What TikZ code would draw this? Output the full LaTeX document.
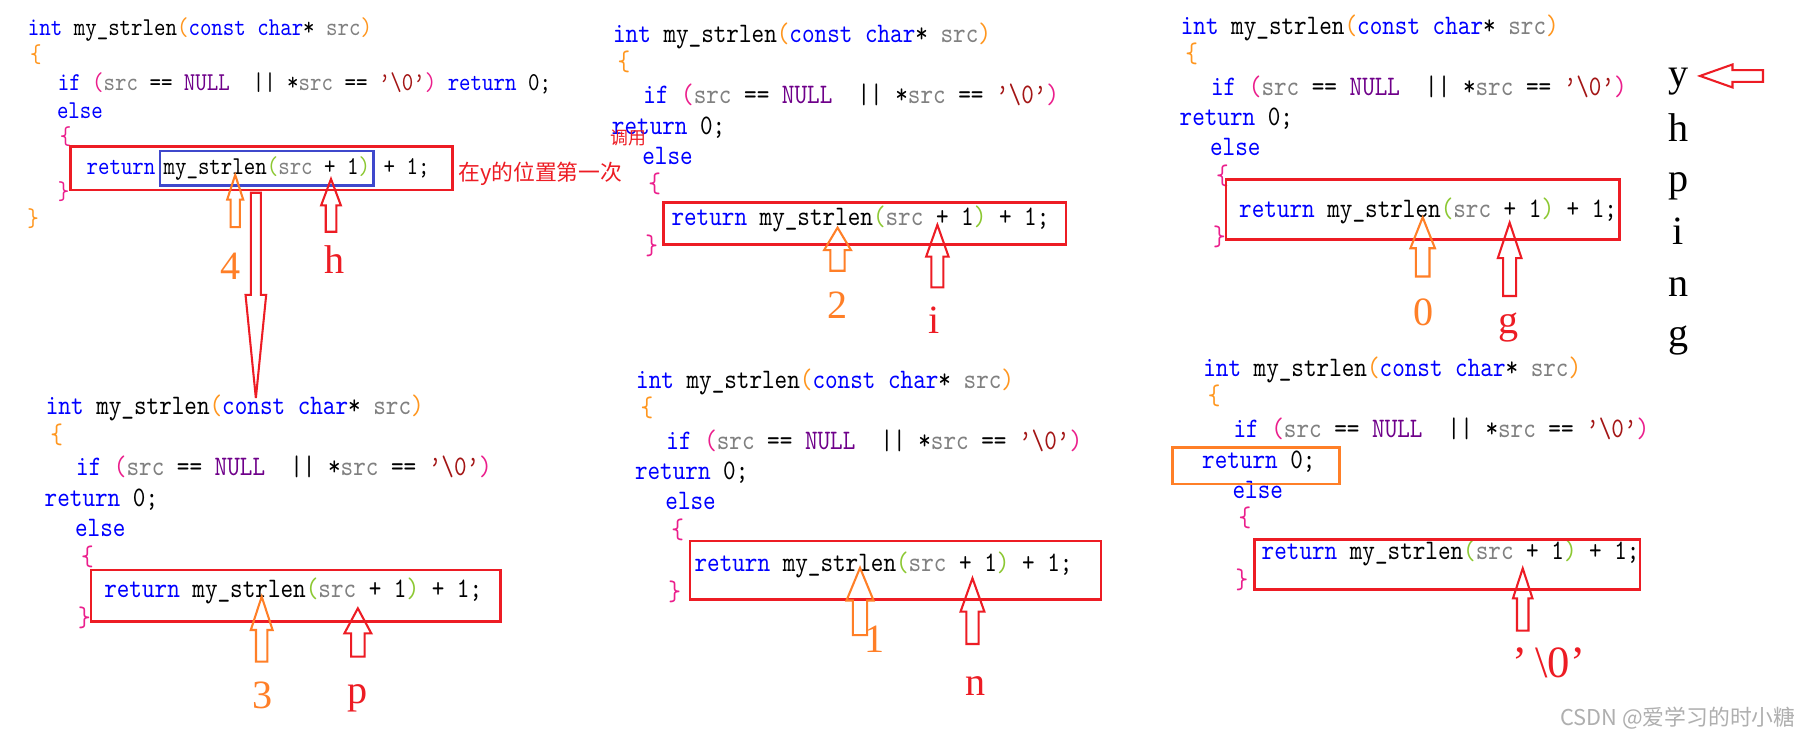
\documentclass[tikz,border=0pt]{standalone}
\usepackage{fontspec}
\setmainfont{Liberation Serif}
\newfontfamily\codefont{lmmono10-regular.otf}[FakeStretch=0.85]
\newfontfamily\cjk{Noto Sans CJK SC}

\definecolor{kwblue}{RGB}{0,0,255}
\definecolor{parorange}{RGB}{255,150,30}
\definecolor{srcgray}{RGB}{128,128,128}
\definecolor{nullpurple}{RGB}{111,0,138}
\definecolor{parpink}{RGB}{235,30,140}
\definecolor{chrred}{RGB}{163,21,21}
\definecolor{pargreen}{RGB}{140,200,50}
\definecolor{markred}{RGB}{237,28,36}
\definecolor{markorange}{RGB}{255,127,39}
\definecolor{callblue}{RGB}{63,72,204}
\definecolor{wmgray}{RGB}{175,175,175}

\newcommand{\ckw}[1]{\textcolor{kwblue}{#1}}
\newcommand{\cpo}[1]{\textcolor{parorange}{#1}}
\newcommand{\csrc}[1]{\textcolor{srcgray}{#1}}
\newcommand{\cnul}[1]{\textcolor{nullpurple}{#1}}
\newcommand{\cpp}[1]{\textcolor{parpink}{#1}}
\newcommand{\cchr}[1]{\textcolor{chrred}{#1}}
\newcommand{\cgp}[1]{\textcolor{pargreen}{#1}}

\newcommand{\linesig}{\ckw{int} my\_strlen\cpo{(}\ckw{const} \ckw{char}* \csrc{src}\cpo{)}}
\newcommand{\lineif}{\ckw{if} \cpp{(}\csrc{src} == \cnul{NULL}\ \ || *\csrc{src} == \cchr{’\textbackslash0’}\cpp{)}}
\newcommand{\linezero}{\ckw{return} 0;}
\newcommand{\linecall}{\ckw{return} my\_strlen\cgp{(}\csrc{src} + 1\cgp{)} + 1;}

% hollow block arrow pointing up: colour, x, tip, head base, bottom, shaft half, head half
\newcommand{\hollowup}[7]{%
  \draw[#1, line width=0.9pt] (#2-#6,#5) -- (#2-#6,#4) -- (#2-#7,#4) -- (#2,#3)
    -- (#2+#7,#4) -- (#2+#6,#4) -- (#2+#6,#5) -- cycle;}

\begin{document}
\begin{tikzpicture}[
    x=0.5pt, y=-0.5pt,
    code/.style={font=\codefont\fontsize{12.3}{14}\selectfont, anchor=base west, inner sep=0pt},
    codesm/.style={code, font=\codefont\fontsize{11.2}{13}\selectfont},
    note/.style={font=\cjk\fontsize{9.5}{11}\selectfont, text=markred, inner sep=0pt},
    lbl/.style={font=\fontsize{17.5}{20}\selectfont, inner sep=0pt},
    redbox/.style={draw=markred, line width=1.2pt},
    zerobox/.style={draw=markorange, line width=1.2pt}
]
\path[use as bounding box, fill=white] (0,0) rectangle (1568,641);

\node[codesm] (sig-1) at (24,31) {\linesig};
\node[codesm] (open-1) at (25.8,54.5) {\cpo{\{}};
\node[codesm] (test-1) at (50,79) {\lineif\ \ckw{return} 0;};
\node[codesm] (else-1) at (49.3,103) {\ckw{else}};
\node[codesm] (inopen-1) at (51.7,125.6) {\cpp{\{}};
\node[codesm] (ret-1) at (75.1,151.7) {\ckw{return}};
\node[codesm, draw=callblue, line width=1.1pt, inner xsep=1.5pt, inner ysep=1.5pt,
      text height=8.5pt, text depth=3.4pt] (call-1) at (138.5,151.7)
      {my\_strlen\cgp{(}\csrc{src} + 1\cgp{)}};
\node[codesm] (add-1) at (334,151.7) {+ 1;};
\node[codesm] (inclose-1) at (50,173.6) {\cpp{\}}};
\node[codesm] (close-1) at (23.4,197.6) {\cpo{\}}};
\draw[redbox] (61.3,127.8) rectangle (394.5,165.6);
\node[note, anchor=west] (first) at (399,151.7) {在y的位置第一次};

\foreach \i/\bx/\by in {2/534/37.2, 3/1028.8/29.9, 4/39.6/361.7, 5/554.1/338.5, 6/1048.4/328.3} {
  \node[code] (sig-\i) at (\bx,\by) {\linesig};
  \node[code] (open-\i) at (\bx+3.9,\by+24.6) {\cpo{\{}};
  \node[code] (test-\i) at (\bx+26.4,\by+53.1) {\lineif};
  \node[code] (zero-\i) at (\bx-1,\by+79.8) {\linezero};
  \node[code] (else-\i) at (\bx+25.5,\by+105.9) {\ckw{else}};
  \node[code] (inopen-\i) at (\bx+30.7,\by+130.8) {\cpp{\{}};
  \node[code] (ret-\i) at (\bx+50.9,\by+159.5) {\linecall};
  \node[code] (inclose-\i) at (\bx+28.1,\by+184.5) {\cpp{\}}};
}

\node[note, font=\cjk\fontsize{7.8}{9}\selectfont] (callnote) at (548,120) {调用};

\draw[redbox] (578.4,176.6) rectangle (929.2,213);
\draw[redbox] (1068.6,156.3) rectangle (1411.3,208.6);
\draw[redbox] (79.3,496.8) rectangle (435.9,541.9);
\draw[redbox] (601.4,471.5) rectangle (959.7,522.4);
\draw[redbox] (1093.4,470) rectangle (1429.4,513.7);
\draw[zerobox] (1021.7,389.9) rectangle (1167.4,421.9);

\hollowup{markorange}{205}{152.5}{174}{198}{4}{7}
\hollowup{markred}{288.5}{156}{179}{202}{4.6}{8.6}
\hollowup{markorange}{730}{198.4}{218}{236}{6.2}{11.7}
\hollowup{markred}{817}{196}{223.7}{250.4}{5.3}{9.8}
\hollowup{markorange}{1240}{189.4}{216.4}{241}{5.9}{10.7}
\hollowup{markred}{1315.8}{194}{225}{258}{5.7}{10.3}
\hollowup{markorange}{228.1}{520}{549.1}{576.7}{5}{9.5}
\hollowup{markred}{311.9}{530.2}{552}{572.3}{5.9}{11.7}
\hollowup{markorange}{749.6}{494.9}{523.4}{553.6}{6.2}{11.8}
\hollowup{markred}{847.6}{504}{533.1}{561.3}{5.3}{10.4}
\hollowup{markred}{1327.2}{495.4}{521.5}{549.7}{5}{8.5}

\draw[markred, line width=0.9pt] (218.7,168) -- (218.7,257) -- (214,257) -- (223,347)
  -- (232,257) -- (227.3,257) -- (227.3,168) -- cycle;
\draw[markred, line width=0.9pt] (1536.6,61.1) -- (1510,61.1) -- (1510,56.2) -- (1481.7,66.2)
  -- (1510,76.2) -- (1510,71.3) -- (1536.6,71.3) -- cycle;

\node[lbl, text=markorange] (four) at (201,232.5) {4};
\node[lbl, text=markred, anchor=base] (hh) at (291.5,238.2) {h};
\node[lbl, text=markorange] (two) at (730,266) {2};
\node[lbl, text=markred, anchor=base] (ii) at (814,290.5) {i};
\node[lbl, text=markorange] (zero) at (1241,272.4) {0};
\node[lbl, text=markred, anchor=base] (gg) at (1315,290.5) {g};
\node[lbl, text=markorange] (three) at (228.8,605.8) {3};
\node[lbl, text=markred, anchor=base] (pp) at (311.7,613) {p};
\node[lbl, text=markorange] (one) at (762.6,557) {1};
\node[lbl, text=markred, anchor=base] (nn) at (850,605.8) {n};
\node[lbl, text=markred, anchor=base, font=\fontsize{19.5}{22}\selectfont] (nul) at (1350,590.4) {’\,\textbackslash0’};

\foreach \c/\yy in {y/75.5, h/123.5, p/167, i/213.5, n/258.6, g/302}
  \node[lbl, anchor=base] (res-\c) at (1463,\yy) {\c};

\node[font=\cjk\fontsize{9.5}{11}\selectfont, text=wmgray, inner sep=0pt] (wm) at (1462.5,626) {CSDN @爱学习的时小糖};
\end{tikzpicture}
\end{document}
